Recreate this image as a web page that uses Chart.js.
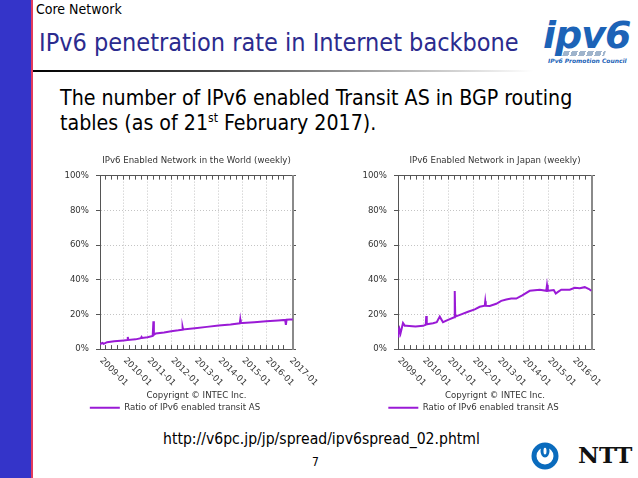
<!DOCTYPE html>
<html>
<head>
<meta charset="utf-8">
<script src="https://cdn.jsdelivr.net/npm/chart.js@4.4.0/dist/chart.umd.min.js"></script>
<style>
  html, body { margin: 0; padding: 0; background: #fff; }
  #slide { position: relative; width: 638px; height: 478px; overflow: hidden; background: #fff;
           font-family: "DejaVu Sans Condensed", "DejaVu Sans", sans-serif; }
  .abs { position: absolute; white-space: nowrap; }
  #bar { left: 0; top: 0; width: 31px; height: 478px; background: #3434c9; }
  #redline { left: 31px; top: 0; width: 2px; height: 478px; background: #e23a5c; }
  #section { left: 36px; top: 0; font-size: 14px; line-height: 18px; color: #000; }
  #title { left: 39px; top: 26px; font-size: 25px; line-height: 34px; color: #2b2b8e; }
  #rule { left: 33px; top: 70px; width: 500px; height: 2px;
          background: linear-gradient(to right, #000 0%, #444 35%, #fff 100%); }
  #body { left: 60px; top: 85px; font-size: 21.2px; line-height: 25px; color: #000; }
  #body sup { font-size: 12px; vertical-align: 8px; line-height: 0; }
  #logo { left: 543px; top: 13px; font-family: "DejaVu Sans", sans-serif; font-weight: bold; font-style: italic;
          font-size: 38px; line-height: 44px; color: #1c63b7; letter-spacing: -1px; }
  #dashes { left: 563px; top: 51px; width: 42px; height: 5px;
            background: repeating-linear-gradient(to right, #9fb4cc 0 6px, transparent 6px 8px); transform: skewX(-20deg); }
  #council { left: 548px; top: 57px; font-family: "DejaVu Sans", sans-serif; font-weight: bold; font-style: italic;
             font-size: 6px; line-height: 8px; color: #1c63b7; }
  #url { left: 163px; top: 430px; font-size: 15.6px; line-height: 18px; color: #000; }
  #page { left: 312px; top: 455px; font-size: 12px; line-height: 14px; color: #000; }
  #ntt { left: 578px; top: 441px; font-family: "DejaVu Serif", serif; font-weight: bold; font-size: 23px;
         line-height: 28px; color: #111; }
  canvas { position: absolute; }
  #cw { left: 55px; top: 148px; }
  #cj { left: 353px; top: 148px; }
</style>
</head>
<body>
<div id="slide">
  <div class="abs" id="bar"></div>
  <div class="abs" id="redline"></div>
  <div class="abs" id="section">Core Network</div>
  <div class="abs" id="title">IPv6 penetration rate in Internet backbone</div>
  <div class="abs" id="rule"></div>
  <div class="abs" id="logo">ipv6</div>
  <div class="abs" id="dashes"></div>
  <div class="abs" id="council">IPv6 Promotion Council</div>
  <div class="abs" id="body">The number of IPv6 enabled Transit AS in BGP routing<br>tables (as of 21<sup>st</sup> February 2017).</div>

  <canvas id="cw" width="270" height="274"></canvas>
  <canvas id="cj" width="265" height="274"></canvas>

  <div class="abs" id="url">http://v6pc.jp/jp/spread/ipv6spread_02.phtml</div>
  <div class="abs" id="page">7</div>
  <svg class="abs" style="left:528px;top:440px" width="34" height="32">
    <circle cx="17" cy="16" r="11" fill="none" stroke="#0a6bbd" stroke-width="5"/>
    <ellipse cx="17" cy="11" rx="3" ry="5" fill="none" stroke="#0a6bbd" stroke-width="3"/>
  </svg>
  <div class="abs" id="ntt">NTT</div>
</div>

<script>
// --- データ ---
// 世界 (weekly)
const worldX = [2009.0, 2009.1, 2009.15, 2009.3, 2009.6, 2010.0, 2010.15, 2010.17, 2010.19, 2010.5,
                2010.72, 2010.75, 2010.78, 2011.0, 2011.22, 2011.25, 2011.27, 2011.35, 2011.7, 2012.0,
                2012.3, 2012.46, 2012.48, 2012.5, 2013.0, 2013.5, 2014.0, 2014.5, 2014.89, 2014.91,
                2014.93, 2015.0, 2015.5, 2016.0, 2016.5, 2016.8, 2016.83, 2016.86, 2017.0, 2017.12];
const worldY = [2.8, 3.5, 3.0, 4.0, 4.5, 5.0, 5.2, 7.0, 5.3, 5.6,
                6.3, 7.0, 6.4, 6.8, 7.6, 16.0, 8.2, 9.0, 9.6, 10.3,
                10.8, 11.2, 12.6, 11.3, 12.0, 12.8, 13.6, 14.2, 14.9, 17.0,
                15.0, 15.0, 15.5, 16.0, 16.5, 16.8, 14.0, 16.9, 17.0, 17.0];
const worldTicks = [2009, 2010, 2011, 2012, 2013, 2014, 2015, 2016, 2017];
const worldLabels = ['2009-01', '2010-01', '2011-01', '2012-01', '2013-01', '2014-01', '2015-01', '2016-01', '2017-01'];

// 日本 (weekly)
const jpX = [2009.0, 2009.02, 2009.05, 2009.1, 2009.2, 2009.27, 2009.33, 2009.7, 2010.0, 2010.11,
             2010.13, 2010.15, 2010.4, 2010.55, 2010.67, 2010.8, 2011.0, 2011.25, 2011.27, 2011.29,
             2011.53, 2011.8, 2012.07, 2012.27, 2012.47, 2012.49, 2012.51, 2012.67, 2012.93, 2013.13,
             2013.33, 2013.53, 2013.73, 2013.97, 2014.27, 2014.67, 2014.93, 2014.96, 2014.99, 2015.23,
             2015.31, 2015.4, 2015.53, 2015.87, 2016.07, 2016.27, 2016.47, 2016.64, 2016.73];
const jpY = [7.2, 11.0, 12.0, 9.0, 15.0, 13.5, 13.5, 13.0, 13.4, 14.0,
             19.0, 14.3, 14.9, 15.5, 18.7, 15.5, 16.8, 18.3, 33.5, 18.7,
             20.0, 21.5, 22.9, 24.4, 25.0, 27.6, 25.0, 24.8, 26.1, 27.8,
             28.6, 29.1, 29.1, 31.0, 33.6, 34.2, 33.6, 36.9, 33.6, 34.0,
             32.0, 33.0, 34.2, 34.2, 35.3, 35.1, 35.7, 34.6, 33.6];
const jpTicks = [2009, 2010, 2011, 2012, 2013, 2014, 2015, 2016];
const jpLabels = ['2009-01', '2010-01', '2011-01', '2012-01', '2013-01', '2014-01', '2015-01', '2016-01'];

const seriesName = 'Ratio of IPv6 enabled transit AS';
const copyright = 'Copyrignt © INTEC Inc.';

const FONT = 'DejaVu Sans';
const FS = 8.6;
const TXT = '#333';
const LINE = '#9a1ad6';

// 斜め45度（右下がり）の年ラベル
const rotatedYears = {
    id: 'rotatedYears',
    afterDraw(chart, args, opts) {
        const { ctx, chartArea } = chart;
        const x = chart.scales.x;
        ctx.save();
        ctx.font = FS + 'px "' + FONT + '"';
        ctx.fillStyle = TXT;
        ctx.textAlign = 'left';
        ctx.textBaseline = 'middle';
        opts.values.forEach((v, i) => {
            ctx.save();
            ctx.translate(x.getPixelForValue(v) + 1, chartArea.bottom + 10);
            ctx.rotate(Math.PI / 4);
            ctx.fillText(opts.labels[i], 0, 0);
            ctx.restore();
        });
        ctx.restore();
    }
};

const isYear = v => Math.abs(v - Math.round(v)) < 1e-6;

function makeChart(id, title, xs, ys, xmax, ticks, labels, padRight) {
    const xCommon = {
        type: 'linear',
        min: 2009,
        max: xmax,
        ticks: { display: false, stepSize: 0.25 },
        border: { display: true, color: '#555', width: 1 }
    };
    return new Chart(document.getElementById(id), {
        type: 'line',
        data: {
            datasets: [{
                label: seriesName,
                data: xs.map((x, i) => ({ x: x, y: ys[i] })),
                borderColor: LINE,
                backgroundColor: LINE,
                borderWidth: 2,
                pointRadius: 0,
                tension: 0,
                fill: false
            }]
        },
        options: {
            responsive: false,
            animation: false,
            devicePixelRatio: 1,
            layout: { padding: { left: 0, right: padRight, top: 0, bottom: 0 } },
            scales: {
                x: Object.assign({}, xCommon, {
                    position: 'bottom',
                    grid: {
                        color: c => isYear(c.tick.value) ? '#c4c4c4' : 'rgba(0,0,0,0)',
                        tickColor: '#555',
                        tickLength: -4,
                        lineWidth: 1
                    },
                    border: { display: true, color: '#555', width: 1, dash: [1, 2] },
                    afterFit: s => { s.height = 40; }
                }),
                x2: Object.assign({}, xCommon, {
                    position: 'top',
                    grid: { drawOnChartArea: false, tickColor: '#555', tickLength: -4 },
                    afterFit: s => { s.height = 0; }
                }),
                y: {
                    min: 0,
                    max: 100,
                    ticks: {
                        stepSize: 20,
                        padding: 7,
                        color: TXT,
                        font: { family: FONT, size: FS },
                        callback: v => v + '%'
                    },
                    grid: { color: '#c4c4c4', tickColor: '#555', tickLength: 4 },
                    border: { display: true, color: '#555', width: 1, dash: [1, 2] },
                    afterFit: s => { s.width = 45; }
                },
                y2: {
                    position: 'right',
                    min: 0,
                    max: 100,
                    ticks: { display: false, stepSize: 20 },
                    grid: { drawOnChartArea: false, tickColor: '#555', tickLength: 3 },
                    border: { display: true, color: '#8a8a8a', width: 2 },
                    afterFit: s => { s.width = 2; }
                }
            },
            plugins: {
                title: {
                    display: true,
                    fullSize: false,
                    text: title,
                    color: TXT,
                    font: { family: FONT, size: FS, weight: 'normal' },
                    padding: { top: 8, bottom: 9.3 }
                },
                subtitle: {
                    display: true,
                    fullSize: false,
                    position: 'bottom',
                    weight: 500,
                    text: copyright,
                    color: TXT,
                    font: { family: FONT, size: FS },
                    padding: { top: 2, bottom: 0 }
                },
                legend: {
                    position: 'bottom',
                    align: 'center',
                    labels: {
                        usePointStyle: true,
                        pointStyle: 'line',
                        pointStyleWidth: 30,
                        padding: 2,
                        color: TXT,
                        font: { family: FONT, size: FS }
                    }
                },
                tooltip: { enabled: false },
                rotatedYears: { values: ticks, labels: labels }
            }
        },
        plugins: [rotatedYears]
    });
}

makeChart('cw', 'IPv6 Enabled Network in the World (weekly)', worldX, worldY, 2017.13,
          worldTicks, worldLabels, 30);
makeChart('cj', 'IPv6 Enabled Network in Japan (weekly)', jpX, jpY, 2016.76,
          jpTicks, jpLabels, 24);
</script>
</body>
</html>
